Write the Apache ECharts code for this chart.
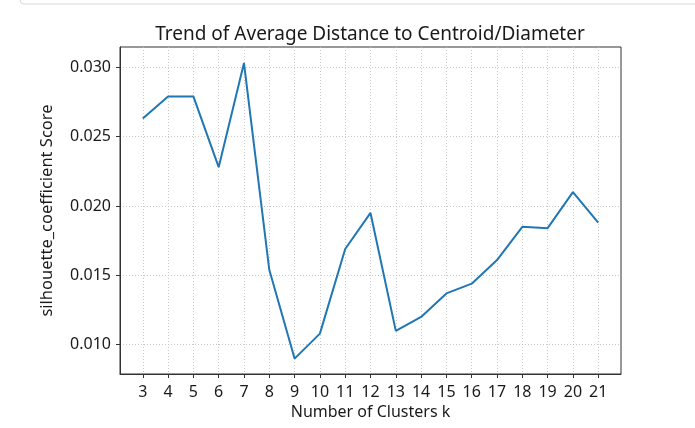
<!DOCTYPE html>
<html><head><meta charset="utf-8">
<script src="https://cdn.jsdelivr.net/npm/echarts@6/dist/echarts.min.js"></script>
<style>html,body{margin:0;padding:0;background:#fff}#c{width:695px;height:428px}</style>
</head><body><div id="c"></div>
<script>
const clusters = [3,4,5,6,7,8,9,10,11,12,13,14,15,16,17,18,19,20,21];
const scores = [0.0263,0.0279,0.0279,0.0228,0.0303,0.0154,0.0090,0.0108,0.0169,0.0195,0.0110,0.0120,0.0137,0.0144,0.0161,0.0185,0.0184,0.0210,0.0188];
const yTicks = [0.010,0.015,0.020,0.025,0.030];
const titleText = 'Trend of Average Distance to Centroid/Diameter';
const xName = 'Number of Clusters k';
const yName = 'silhouette_coefficient Score';

const font = 'Noto Sans';
const chart = echarts.init(document.getElementById('c'), null, {renderer:'canvas'});
const gridLine = {show:true, lineStyle:{color:'#bdbdbd', type:[1,2], width:0.8}};
chart.setOption({
  animation:false,
  backgroundColor:'#fff',
  title:{text:titleText, left:365, top:20, textAlign:'center',
    textStyle:{fontFamily:font, fontSize:19, fontWeight:'normal', color:'#1a1a1a'}},
  graphic:[{type:'rect', shape:{x:20,y:-20,width:700,height:24,r:4},
    style:{fill:'#fff', stroke:'#d8d8d8', lineWidth:1}}],
  grid:{left:120, right:74, top:47, bottom:54, show:true, borderColor:'#333', borderWidth:1, containLabel:false},
  xAxis:{type:'value', min:2.1, max:21.9,
    name:xName, nameLocation:'middle', nameGap:30,
    nameTextStyle:{fontFamily:font, fontSize:16, color:'#1a1a1a'},
    axisLine:{show:true, lineStyle:{color:'#333'}},
    axisTick:{show:true, inside:false, length:4, lineStyle:{color:'#333'}, customValues:clusters},
    axisLabel:{fontFamily:font, fontSize:16, color:'#1a1a1a', margin:10, customValues:clusters},
    splitLine:gridLine},
  yAxis:{type:'value', min:0.00789, max:0.03146,
    name:yName, nameLocation:'middle', nameGap:64, nameRotate:90,
    nameTextStyle:{fontFamily:font, fontSize:16.5, color:'#1a1a1a'},
    axisLine:{show:true, lineStyle:{color:'#333'}},
    axisTick:{show:true, inside:false, length:4, lineStyle:{color:'#333'}, customValues:yTicks},
    axisLabel:{fontFamily:font, fontSize:16, color:'#1a1a1a', margin:9, customValues:yTicks,
      formatter:v=>v.toFixed(3)},
    splitLine:gridLine},
  series:[{type:'line', data:clusters.map((k,i)=>[k,scores[i]]), showSymbol:false, symbol:'none',
    lineStyle:{color:'#1f77b4', width:2}}]
});
</script></body></html>
